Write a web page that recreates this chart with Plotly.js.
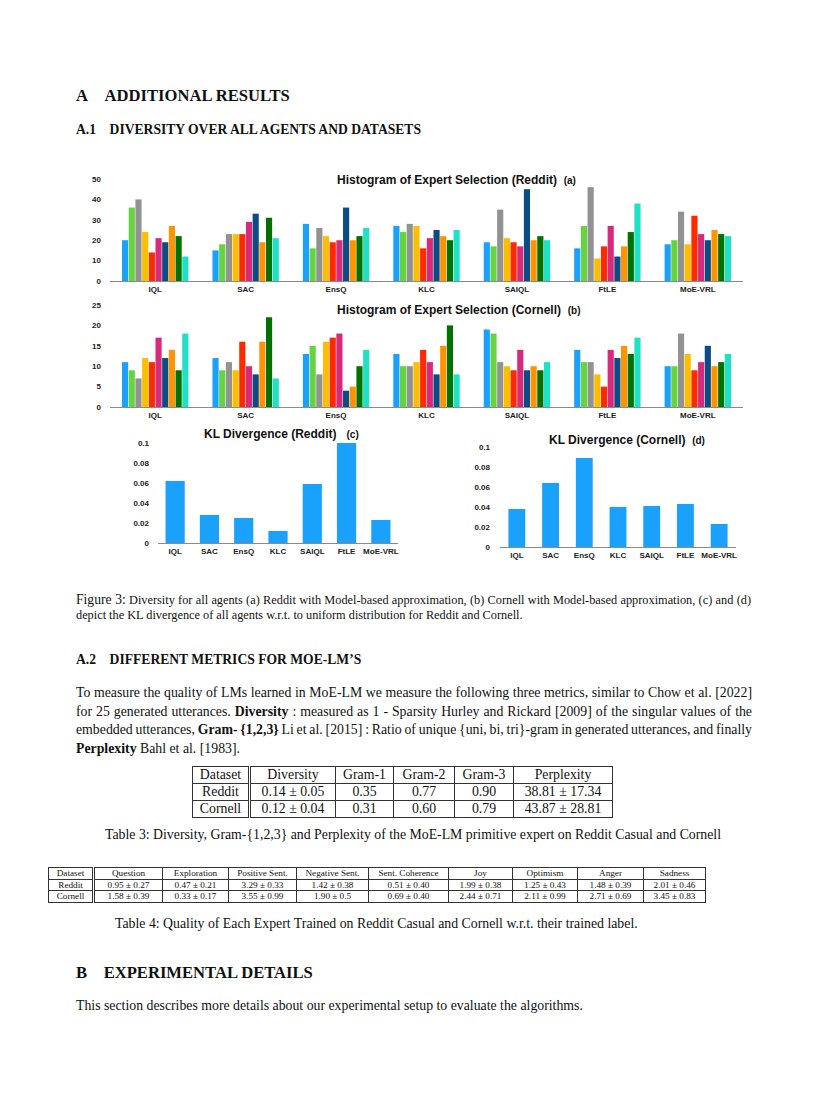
<!DOCTYPE html>
<html>
<head>
<meta charset="utf-8">
<script src="https://cdn.plot.ly/plotly-3.0.1.min.js"></script>
<style>
  html, body { margin:0; padding:0; background:#fff; }
  body { width:827px; height:1100px; position:relative; overflow:hidden; font-family:"Liberation Serif","Times New Roman",serif; color:#111; }
  .abs { position:absolute; white-space:nowrap; }
  .h1 { font-weight:bold; font-size:16.6px; }
  .h2 { font-weight:bold; font-size:13.6px; }
  .line { position:absolute; left:76px; width:676px; font-size:13.8px; line-height:18px; text-align:justify; text-align-last:justify; white-space:normal; }
  .cap { position:absolute; left:76px; width:675px; font-size:12.3px; line-height:15px; text-align:justify; text-align-last:justify; white-space:normal; }
  table { border-collapse:collapse; table-layout:fixed; }
  table td { border:1px solid #333; text-align:center; white-space:nowrap; overflow:hidden; }
  .t3 td { font-size:13.8px; padding:0; height:16px; line-height:16px; }
  .t4 td { font-size:9.2px; height:10.5px; line-height:10.5px; padding:0; }
  .dbl { border-right:3px double #333 !important; }
  .chart { position:absolute; }
</style>
</head>
<body>
<div class="abs h1" style="left:76px; top:86px;">A&nbsp;&nbsp;&nbsp;&nbsp;ADDITIONAL RESULTS</div>
<div class="abs h2" style="left:76px; top:122px;">A.1&nbsp;&nbsp;&nbsp;&nbsp;DIVERSITY OVER ALL AGENTS AND DATASETS</div>

<div id="chartA" class="chart" style="left:60px; top:165px; width:720px; height:135px;"></div>
<div id="chartB" class="chart" style="left:60px; top:295px; width:720px; height:130px;"></div>
<div id="chartC" class="chart" style="left:100px; top:425px; width:310px; height:140px;"></div>
<div id="chartD" class="chart" style="left:460px; top:425px; width:300px; height:140px;"></div>

<div class="cap fit" style="top:592px;"><span style="font-size:13.6px;">Figure 3:</span> Diversity for all agents (a) Reddit with Model-based approximation, (b) Cornell with Model-based approximation, (c) and (d)</div>
<div class="abs" style="left:76px; top:608px; font-size:12.3px; line-height:15px;">depict the KL divergence of all agents w.r.t. to uniform distribution for Reddit and Cornell.</div>

<div class="abs h2" style="left:76px; top:652px;">A.2&nbsp;&nbsp;&nbsp;&nbsp;DIFFERENT METRICS FOR MOE-LM’S</div>

<div class="line fit" style="top:684px;">To measure the quality of LMs learned in MoE-LM we measure the following three metrics, similar to Chow et al. [2022]</div>
<div class="line fit" style="top:702.5px;">for 25 generated utterances. <b>Diversity</b> : measured as 1 - Sparsity Hurley and Rickard [2009] of the singular values of the</div>
<div class="line fit" style="top:721px;">embedded utterances, <b>Gram- {1,2,3}</b> Li et al. [2015] : Ratio of unique {uni, bi, tri}-gram in generated utterances, and finally</div>
<div class="abs" style="left:76px; top:739.5px; font-size:13.8px; line-height:18px;"><b>Perplexity</b> Bahl et al. [1983].</div>

<table id="t3" class="abs t3" style="left:192px; top:766px;"></table>
<div class="abs" style="left:105px; top:827px; font-size:13.8px;">Table 3: Diversity, Gram-{1,2,3} and Perplexity of the MoE-LM primitive expert on Reddit Casual and Cornell</div>

<table id="t4" class="abs t4" style="left:48px; top:867px;"></table>
<div class="abs" style="left:115px; top:916px; font-size:13.8px;">Table 4: Quality of Each Expert Trained on Reddit Casual and Cornell w.r.t. their trained label.</div>

<div class="abs h1" style="left:76px; top:963px;">B&nbsp;&nbsp;&nbsp;&nbsp;EXPERIMENTAL DETAILS</div>
<div class="abs" style="left:76px; top:998px; font-size:13.8px;">This section describes more details about our experimental setup to evaluate the algorithms.</div>

<script>
// ---------- data ----------
const agents = ["IQL", "SAC", "EnsQ", "KLC", "SAIQL", "FtLE", "MoE-VRL"];
const expertColors = ["#1AA1FB", "#66D43F", "#929292", "#FDBE00", "#FF2A00", "#D72A7B", "#0B4C85", "#FF9300", "#027100", "#1EE2C8"];

// Reddit histogram: one array per expert (values over agents)
const redditE1 = [20, 15, 28, 27, 19, 16, 18];
const redditE2 = [36, 18, 16, 24, 17, 27, 20];
const redditE3 = [40, 23, 26, 28, 35, 46, 34];
const redditE4 = [24, 23, 22, 27, 21, 11, 18];
const redditE5 = [14, 23, 19, 16, 19, 17, 32];
const redditE6 = [21, 29, 20, 21, 17, 27, 23];
const redditE7 = [19, 33, 36, 25, 45, 12, 20];
const redditE8 = [27, 19, 20, 22, 20, 17, 25];
const redditE9 = [22, 31, 22, 20, 22, 24, 23];
const redditE10 = [12, 21, 26, 25, 20, 38, 22];

// Cornell histogram
const cornellE1 = [11, 12, 13, 13, 19, 14, 10];
const cornellE2 = [9, 9, 15, 10, 18, 11, 10];
const cornellE3 = [7, 11, 8, 10, 11, 11, 18];
const cornellE4 = [12, 9, 16, 11, 10, 8, 13];
const cornellE5 = [11, 16, 17, 14, 9, 5, 9];
const cornellE6 = [17, 10, 18, 11, 14, 14, 11];
const cornellE7 = [12, 8, 4, 8, 9, 12, 15];
const cornellE8 = [14, 16, 5, 15, 10, 15, 10];
const cornellE9 = [9, 22, 10, 20, 9, 13, 11];
const cornellE10 = [18, 7, 14, 8, 11, 17, 13];

// KL divergence
const klReddit = [0.062, 0.028, 0.025, 0.012, 0.059, 0.100, 0.023];
const klCornell = [0.038, 0.064, 0.089, 0.040, 0.041, 0.043, 0.023];

// Tables
const t3Header = ["Dataset", "Diversity", "Gram-1", "Gram-2", "Gram-3", "Perplexity"];
const t3Reddit = ["Reddit", "0.14 ± 0.05", "0.35", "0.77", "0.90", "38.81 ± 17.34"];
const t3Cornell = ["Cornell", "0.12 ± 0.04", "0.31", "0.60", "0.79", "43.87 ± 28.81"];

const t4Header = ["Dataset", "Question", "Exploration", "Positive Sent.", "Negative Sent.", "Sent. Coherence", "Joy", "Optimism", "Anger", "Sadness"];
const t4Reddit = ["Reddit", "0.95 ± 0.27", "0.47 ± 0.21", "3.29 ± 0.33", "1.42 ± 0.38", "0.51 ± 0.40", "1.99 ± 0.38", "1.25 ± 0.43", "1.48 ± 0.39", "2.01 ± 0.46"];
const t4Cornell = ["Cornell", "1.58 ± 0.39", "0.33 ± 0.17", "3.55 ± 0.99", "1.90 ± 0.5", "0.69 ± 0.40", "2.44 ± 0.71", "2.11 ± 0.99", "2.71 ± 0.69", "3.45 ± 0.83"];

// ---------- fit single justified lines (tighten spacing, then font) ----------
function fitLines() {
  document.querySelectorAll(".fit").forEach(el => {
    const lh = parseFloat(getComputedStyle(el).lineHeight) || 18;
    const wraps = () => el.offsetHeight > lh * 1.5;
    let ws = 0, ls = 0, guard = 0;
    while (wraps() && ws > -3 && guard < 40) { ws -= 0.25; el.style.wordSpacing = ws + "px"; guard++; }
    while (wraps() && ls > -0.4 && guard < 80) { ls -= 0.05; el.style.letterSpacing = ls + "px"; guard++; }
    let fs = parseFloat(getComputedStyle(el).fontSize);
    while (wraps() && guard < 140) { fs -= 0.1; el.style.fontSize = fs + "px"; guard++; }
  });
}
fitLines();

// ---------- charts ----------
const FONT = "Liberation Sans, Arial, sans-serif";
const redditSeries = [redditE1, redditE2, redditE3, redditE4, redditE5, redditE6, redditE7, redditE8, redditE9, redditE10];
const cornellSeries = [cornellE1, cornellE2, cornellE3, cornellE4, cornellE5, cornellE6, cornellE7, cornellE8, cornellE9, cornellE10];

function histTraces(series) {
  return series.map((vals, i) => ({
    type: "bar", x: agents, y: vals, name: "Expert " + (i + 1),
    marker: { color: expertColors[i], line: { width: 0 } }, hoverinfo: "none"
  }));
}

function axisX() {
  return {
    type: "category", showgrid: false, zeroline: false, showline: true, linecolor: "#8a8a8a", linewidth: 1,
    ticks: "", tickfont: { family: FONT, size: 8, color: "#222", weight: "bold" }, fixedrange: true, automargin: false
  };
}
function axisY(range, dtick, fmt, standoff) {
  return {
    range: range, dtick: dtick, tick0: 0, showgrid: false, zeroline: false, showline: false, ticks: "",
    tickformat: fmt, ticklabelstandoff: standoff,
    tickfont: { family: FONT, size: 8, color: "#222", weight: "bold" }, fixedrange: true, automargin: false
  };
}
function titleAnn(text, x, y) {
  return { text: text, xref: "paper", yref: "paper", x: x, y: y, xanchor: "left", yanchor: "middle",
    showarrow: false, font: { family: FONT, size: 12, color: "#111", weight: "bold" } };
}

const cfg = { staticPlot: true, displayModeBar: false };

Plotly.newPlot("chartA", histTraces(redditSeries), {
  width: 720, height: 135, margin: { l: 50, r: 37, t: 14, b: 19 },
  paper_bgcolor: "rgba(0,0,0,0)", plot_bgcolor: "rgba(0,0,0,0)",
  barmode: "group", bargap: 0.26, bargroupgap: 0.08, showlegend: false,
  xaxis: axisX(), yaxis: axisY([0, 50], 10, "d", 8),
  annotations: [titleAnn("Histogram of Expert Selection (Reddit)  <span style='font-size:10px'>(a)</span>", 0.355, 0.99)]
}, cfg);

Plotly.newPlot("chartB", histTraces(cornellSeries), {
  width: 720, height: 130, margin: { l: 50, r: 37, t: 10, b: 18.3 },
  paper_bgcolor: "rgba(0,0,0,0)", plot_bgcolor: "rgba(0,0,0,0)",
  barmode: "group", bargap: 0.26, bargroupgap: 0.08, showlegend: false,
  xaxis: axisX(), yaxis: axisY([0, 25], 5, "d", 8),
  annotations: [titleAnn("Histogram of Expert Selection (Cornell)  <span style='font-size:10px'>(b)</span>", 0.355, 0.95)]
}, cfg);

Plotly.newPlot("chartC", [{
  type: "bar", x: agents, y: klReddit, marker: { color: "#1AA1FB" }, hoverinfo: "none"
}], {
  width: 310, height: 140, margin: { l: 58, r: 12, t: 18, b: 22 },
  paper_bgcolor: "rgba(0,0,0,0)", plot_bgcolor: "rgba(0,0,0,0)",
  bargap: 0.44, showlegend: false,
  xaxis: axisX(), yaxis: axisY([0, 0.1], 0.02, "", 8),
  annotations: [titleAnn("KL Divergence (Reddit)   <span style='font-size:10px'>(c)</span>", (202 - 158) / 240, 1.09)]
}, cfg);

Plotly.newPlot("chartD", [{
  type: "bar", x: agents, y: klCornell, marker: { color: "#1AA1FB" }, hoverinfo: "none"
}], {
  width: 300, height: 140, margin: { l: 40, r: 24, t: 22, b: 18 },
  paper_bgcolor: "rgba(0,0,0,0)", plot_bgcolor: "rgba(0,0,0,0)",
  bargap: 0.5, showlegend: false,
  xaxis: axisX(), yaxis: axisY([0, 0.1], 0.02, "", 9),
  annotations: [titleAnn("KL Divergence (Cornell)  <span style='font-size:10px'>(d)</span>", (547 - 500) / 236, 1.07)]
}, cfg);

// ---------- tables ----------
function fillTable(id, rows, widths) {
  const t = document.getElementById(id);
  const cg = document.createElement("colgroup");
  widths.forEach(w => { const c = document.createElement("col"); c.style.width = w + "px"; cg.appendChild(c); });
  t.appendChild(cg);
  t.style.width = widths.reduce((a, b) => a + b, 0) + "px";
  rows.forEach(r => {
    const tr = document.createElement("tr");
    r.forEach((c, j) => {
      const td = document.createElement("td");
      td.textContent = c;
      if (j === 0) td.className = "dbl";
      tr.appendChild(td);
    });
    t.appendChild(tr);
  });
}
fillTable("t3", [t3Header, t3Reddit, t3Cornell], [57, 86, 58, 61, 59, 99]);
fillTable("t4", [t4Header, t4Reddit, t4Cornell], [45, 69, 66, 68, 72, 80, 64, 65, 66, 62]);

if (document.fonts && document.fonts.ready) document.fonts.ready.then(fitLines);
</script>
</body>
</html>
